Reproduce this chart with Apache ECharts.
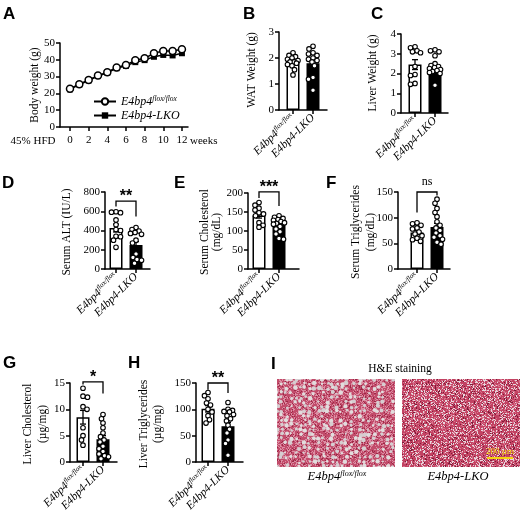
<!DOCTYPE html>
<html><head><meta charset="utf-8">
<script src="https://cdn.jsdelivr.net/npm/echarts@6/dist/echarts.min.js"></script>
<style>html,body{margin:0;padding:0;background:#fff}#c{width:520px;height:518px}</style>
</head><body><div id="c"></div><script>
// ---------------- DATA ----------------
const weeks = [0,1,2,3,4,5,6,7,8,9,10,11,12];
const weekTicks = [0,2,4,6,8,10,12];
const bwFlox = [22.8,25.5,28.0,30.6,32.6,35.4,36.9,39.7,40.9,43.9,45.3,45.3,46.3];
const bwLKO  = [22.4,25.2,27.7,30.3,32.3,35.0,36.4,38.6,39.8,41.8,42.9,42.6,43.9];

const watFlox = [2.2,2.1,2.05,2.0,1.95,1.9,1.85,1.85,1.8,1.75,1.7,1.55,1.35];
const watLKO  = [2.45,2.35,2.2,2.15,2.1,2.0,1.95,1.9,1.85,1.7,1.25,1.18,0.76];
const watMean = [1.82,1.8];
const watSem  = [0.07,0.13];

const lwFlox = [3.35,3.3,3.15,3.1,3.05,2.35,1.95,1.9,1.5,1.45];
const lwLKO  = [3.2,3.15,3.1,2.9,2.5,2.4,2.35,2.3,2.25,2.2,2.15,2.1,2.05,2.0,1.4];
const lwMean = [2.45,2.3];
const lwSem  = [0.25,0.13];

const altFlox = [595,590,585,510,460,410,400,340,335,300,225];
const altLKO  = [430,410,395,380,370,360,300,270,155,120,100,90,60];
const altMean = [425,250];
const altSem  = [40,35];
const altSig  = {text:'**', top:706, l:650, r:545};

const cholFlox = [175,168,160,155,148,145,140,122,115,110];
const cholLKO  = [140,136,133,130,128,125,122,120,118,112,105,98,92,80,78];
const cholMean = [141,117];
const cholSem  = [7,5];
const cholSig  = {text:'***', top:203, l:187, r:166};

const tgFlox = [90,88,85,80,78,72,68,65,60,57,54];
const tgLKO  = [136,128,118,110,102,92,85,80,75,70,65,62,58,52,48];
const tgMean = [71,82];
const tgSem  = [4,7];
const tgSig  = {text:'ns', top:150, l:110, r:143};

const lcFlox = [14,12.5,12.3,10.5,10,6.5,5,4.2,3.2];
const lcLKO  = [9.0,8.2,7.4,6.5,5.5,4.8,4.2,3.8,3.0,2.5,2.0,1.5,1.2,1.0,0.6];
const lcMean = [8.5,4.3];
const lcSem  = [1.3,0.7];
const lcSig  = {text:'*', top:15.2, l:14.7, r:13.0};

const ltFlox = [132,126,120,112,108,100,95,88,80,74];
const ltLKO  = [113,100,98,96,95,90,88,82,78,70,62,55,42,35,13];
const ltMean = [101,68];
const ltSem  = [6,7];
const ltSig  = {text:'**', top:150, l:137, r:131};

// ---------------- LAYOUT / STYLE ----------------
const SERIF = '"Liberation Serif","Times New Roman",serif';
const SANS = '"Liberation Sans",Arial,sans-serif';
const richLbl = {
  i:{fontFamily:SERIF,fontStyle:'italic',fontSize:11.5,color:'#000',lineHeight:13},
  s:{fontFamily:SERIF,fontStyle:'italic',fontSize:7,color:'#000',verticalAlign:'top',lineHeight:8}
};
function grpLabel(v){ return Math.round(v)===0 ? '{i|E4bp4}{s|flox/flox}' : '{i|E4bp4-LKO}'; }

const PXX = 20; // px per category unit
const panels = [
  {flox:watFlox, lko:watLKO, mean:watMean, sem:watSem, left:279, top:32, width:48, height:78, c0:14, ymax:3, step:1},
  {flox:lwFlox, lko:lwLKO, mean:lwMean, sem:lwSem, left:401, top:34, width:47, height:79, c0:14, ymax:4, step:1},
  {flox:altFlox, lko:altLKO, mean:altMean, sem:altSem, sig:altSig, left:105, top:192, width:45, height:77, c0:11, ymax:800, step:200},
  {flox:cholFlox, lko:cholLKO, mean:cholMean, sem:cholSem, sig:cholSig, left:248, top:193, width:51, height:76, c0:11, ymax:200, step:50},
  {flox:tgFlox, lko:tgLKO, mean:tgMean, sem:tgSem, sig:tgSig, left:398, top:192, width:52, height:77, c0:19, ymax:150, step:50},
  {flox:lcFlox, lko:lcLKO, mean:lcMean, sem:lcSem, sig:lcSig, left:70, top:383, width:47, height:79, c0:13, ymax:15, step:5},
  {flox:ltFlox, lko:ltLKO, mean:ltMean, sem:ltSem, sig:ltSig, left:196, top:383, width:47, height:79, c0:12, ymax:150, step:50}
];

function swarm(vals, cx, pxX, pxY, d, maxOff){
  const placed=[], out=[];
  const idx = vals.map((v,i)=>i).sort((a,b)=>vals[b]-vals[a]);
  idx.forEach((i,n)=>{
    const py = vals[i]*pxY;
    const sgn = n%2===0 ? 1 : -1;
    const cands=[0];
    for(let k=0.5;k<=maxOff;k+=0.5){cands.push(sgn*k,-sgn*k);}
    let chosen=null;
    for(const dx of cands){
      if(placed.every(p=>(p[0]-dx)**2+(p[1]-py)**2 >= d*d)){chosen=dx;break;}
    }
    if(chosen===null){
      let best=-1;
      for(const dx of cands){
        const m=Math.min(...placed.map(p=>(p[0]-dx)**2+(p[1]-py)**2));
        if(m>best){best=m;chosen=dx;}
      }
    }
    placed.push([chosen,py]);
    out.push([cx+chosen/pxX, vals[i]]);
  });
  return out;
}

const axisLine = {show:true, onZero:false, lineStyle:{color:'#000', width:1.5}};
const axisTick = {show:true, inside:false, length:4, lineStyle:{color:'#000', width:1.5}};

const grids=[], xAxes=[], yAxes=[], series=[];

// Panel A
grids.push({left:60, top:43, width:128, height:84});
xAxes.push({gridIndex:0, type:'value', min:-1.07, max:12.65,
  axisLine:axisLine, axisTick:Object.assign({}, axisTick, {customValues:weekTicks}),
  axisLabel:{customValues:weekTicks, margin:8, color:'#000', fontFamily:SERIF, fontSize:11},
  splitLine:{show:false}});
yAxes.push({gridIndex:0, type:'value', min:0, max:50, interval:10,
  axisLine:axisLine, axisTick:axisTick,
  axisLabel:{margin:5, color:'#000', fontFamily:SERIF, fontSize:11}, splitLine:{show:false}});
series.push({name:'lko', type:'line', xAxisIndex:0, yAxisIndex:0, z:3,
  data: weeks.map((w,i)=>[w,bwLKO[i]]), symbol:'rect', symbolSize:6,
  itemStyle:{color:'#000'}, lineStyle:{color:'#000', width:1.5}});
series.push({name:'flox', type:'line', xAxisIndex:0, yAxisIndex:0, z:4,
  data: weeks.map((w,i)=>[w,bwFlox[i]]), symbol:'circle', symbolSize:7,
  itemStyle:{color:'#fff', borderColor:'#000', borderWidth:1.5}, lineStyle:{color:'#000', width:1.5}});

// Bar panels
panels.forEach((p,k)=>{
  const gi = k+1;
  grids.push({left:p.left, top:p.top, width:p.width, height:p.height});
  const xmin = -p.c0/PXX, xmax = (p.width-p.c0)/PXX;
  xAxes.push({gridIndex:gi, type:'value', min:xmin, max:xmax,
    axisLine:axisLine, axisTick:Object.assign({}, axisTick, {customValues:[0,1]}),
    axisLabel:{customValues:[0,1], rotate:45, margin:6, formatter:grpLabel, rich:richLbl},
    splitLine:{show:false}});
  yAxes.push({gridIndex:gi, type:'value', min:0, max:p.ymax, interval:p.step,
    axisLine:axisLine, axisTick:axisTick,
    axisLabel:{margin:5, color:'#000', fontFamily:SERIF, fontSize:11}, splitLine:{show:false}});
  series.push({type:'bar', xAxisIndex:gi, yAxisIndex:gi, barWidth:13, z:2,
    data:[
      {value:[0,p.mean[0]], itemStyle:{color:'#fff', borderColor:'#000', borderWidth:1.5}},
      {value:[1,p.mean[1]], itemStyle:{color:'#000', borderColor:'#000', borderWidth:1.5}}
    ]});
  series.push({type:'custom', xAxisIndex:gi, yAxisIndex:gi, z:3, clip:false,
    encode:{x:0, y:1},
    data:[[0,p.mean[0],p.sem[0]],[1,p.mean[1],p.sem[1]]],
    renderItem:(params, api)=>{
      const x=api.value(0), m=api.value(1), s=api.value(2);
      const t=api.coord([x,m+s]), b=api.coord([x,m-s]);
      const st={stroke:'#000', lineWidth:1.3};
      return {type:'group', children:[
        {type:'line', shape:{x1:t[0],y1:t[1],x2:b[0],y2:b[1]}, style:st},
        {type:'line', shape:{x1:t[0]-3,y1:t[1],x2:t[0]+3,y2:t[1]}, style:st},
        {type:'line', shape:{x1:b[0]-3,y1:b[1],x2:b[0]+3,y2:b[1]}, style:st}
      ]};
    }});
  const pxY = p.height/p.ymax;
  series.push({type:'scatter', xAxisIndex:gi, yAxisIndex:gi, z:5, clip:false,
    symbol:'circle', symbolSize:4.6,
    itemStyle:{color:'#fff', borderColor:'#000', borderWidth:1.1, opacity:1},
    data: swarm(p.flox, 0, PXX, pxY, 4.4, 5.5).concat(swarm(p.lko, 1, PXX, pxY, 4.4, 5.5))});
  if(p.sig){
    const sg=p.sig;
    series.push({type:'custom', xAxisIndex:gi, yAxisIndex:gi, z:5, clip:false,
      encode:{x:[0,1], y:[2,3,4]},
      data:[[0,1,sg.top,sg.l,sg.r]],
      renderItem:(params, api)=>{
        const a=api.coord([api.value(0),api.value(3)]);
        const b=api.coord([api.value(0),api.value(2)]);
        const c=api.coord([api.value(1),api.value(2)]);
        const d=api.coord([api.value(1),api.value(4)]);
        const isNs = sg.text==='ns';
        return {type:'group', children:[
          {type:'polyline', shape:{points:[a,b,c,d]}, style:{stroke:'#000', lineWidth:1.3, fill:null}},
          {type:'text', style:{text:sg.text, x:(b[0]+c[0])/2, y:b[1]-(isNs?10:4),
            align:'center', verticalAlign:'middle',
            font: isNs ? '12px '+SERIF : 'bold 16px '+SANS, fill:'#000'}}
        ]};
      }});
  }
});

// ---------------- GRAPHICS (letters, titles, histology) ----------------
const graphics=[];
[['A',3,14],['B',243,14],['C',371,14],['D',2,183],['E',174,183],['F',326,183],['G',3,363],['H',128,363],['I',271,364]]
 .forEach(([t,x,y])=>graphics.push({type:'text', x:x, y:y,
   style:{text:t, font:'bold 17px '+SANS, fill:'#000', align:'left', verticalAlign:'middle'}}));

[['Body weight (g)',35,85,12],['WAT Weight (g)',252,70,12],['Liver Weight (g)',373,73,12],
 ['Serum ALT (IU/L)',67,232,12],['Serum Cholesterol\n(mg/dL)',211,232,12],
 ['Serum Triglycerides\n(mg/dL)',363,232,15],['Liver Cholesterol\n(µg/mg)',35,424,15],
 ['Liver Triglycerides\n(µg/mg)',151,424,14]]
 .forEach(([t,x,y,lh])=>graphics.push({type:'text', x:x, y:y, rotation:Math.PI/2,
   style:{text:t, font:'11.5px '+SERIF, fill:'#000', align:'center', verticalAlign:'middle', lineHeight:lh}}));

graphics.push({type:'text', x:33, y:141, style:{text:'45% HFD', font:'11px '+SERIF, fill:'#000', align:'center', verticalAlign:'middle'}});
graphics.push({type:'text', x:190, y:141, style:{text:'weeks', font:'11px '+SERIF, fill:'#000', align:'left', verticalAlign:'middle'}});

function hash(i,j,k){ const s=Math.sin(i*127.1+j*311.7+k*74.7)*43758.5453; return s-Math.floor(s); }
function tissue(w,h,kind){
  const c=document.createElement('canvas'); c.width=w; c.height=h;
  const g=c.getContext('2d');
  if(kind===0){
    g.fillStyle='#c24c6b'; g.fillRect(0,0,w,h);
    for(let y=0;y<h;y++) for(let x=0;x<w;x++){
      const r=hash(x,y,1);
      if(r<0.3){g.fillStyle='#dc8ea3'; g.fillRect(x,y,1,1);}
      else if(r>0.88){g.fillStyle='#9c2847'; g.fillRect(x,y,1,1);}
    }
    for(let y=0;y<h+5;y+=4.6) for(let x=0;x<w+5;x+=4.6){
      if(hash(x,y,2)<0.62){
        const rr=1.0+hash(x,y,3)*1.3;
        g.fillStyle=hash(x,y,6)<0.5?'#e2dcdd':'#d6ced1';
        g.beginPath(); g.arc(x+(hash(x,y,4)-0.5)*2.6, y+(hash(x,y,5)-0.5)*2.6, rr, 0, Math.PI*2); g.fill();
      }
    }
  } else {
    g.fillStyle='#c24262'; g.fillRect(0,0,w,h);
    for(let y=0;y<h;y++) for(let x=0;x<w;x++){
      const r=hash(x,y,7);
      if(r<0.2){g.fillStyle='#e6d6dc'; g.fillRect(x,y,1,1);}
      else if(r<0.38){g.fillStyle='#d8728d'; g.fillRect(x,y,1,1);}
      else if(r>0.91){g.fillStyle='#7e1a38'; g.fillRect(x,y,1,1);}
    }
  }
  return c;
}
graphics.push({type:'image', x:277, y:379, style:{image:tissue(118,88,0), width:118, height:88}});
graphics.push({type:'image', x:402, y:379, style:{image:tissue(118,88,1), width:118, height:88}});
graphics.push({type:'text', x:400, y:369, style:{text:'H&E staining', font:'11.5px '+SERIF, fill:'#000', align:'center', verticalAlign:'middle'}});
graphics.push({type:'line', shape:{x1:487,y1:458,x2:513,y2:458}, style:{stroke:'#f5d20f', lineWidth:2}});
graphics.push({type:'text', x:500, y:452, style:{text:'200 µm', font:'9px '+SERIF, fill:'#f5d20f', align:'center', verticalAlign:'middle'}});
graphics.push({type:'text', x:337, y:477, style:{text:'{i|E4bp4}{s|flox/flox}', align:'center', verticalAlign:'middle',
  rich:{i:{font:'italic 12.5px '+SERIF, fill:'#000', lineHeight:14}, s:{font:'italic 8px '+SERIF, fill:'#000', verticalAlign:'top', lineHeight:9}}}});
graphics.push({type:'text', x:458, y:477, style:{text:'E4bp4-LKO', font:'italic 12.5px '+SERIF, fill:'#000', align:'center', verticalAlign:'middle'}});

const chart = echarts.init(document.getElementById('c'));
chart.setOption({
  animation:false,
  textStyle:{fontFamily:SERIF},
  legend:{data:['flox','lko'], left:88, top:90, orient:'vertical', itemWidth:22, itemHeight:8, itemGap:2,
    formatter:n=> n==='flox' ? '{i|E4bp4}{s|flox/flox}' : '{i|E4bp4-LKO}',
    textStyle:{rich:{
      i:{fontFamily:SERIF,fontStyle:'italic',fontSize:12,color:'#000',lineHeight:13},
      s:{fontFamily:SERIF,fontStyle:'italic',fontSize:7.5,color:'#000',verticalAlign:'top',lineHeight:8}}}},
  grid:grids, xAxis:xAxes, yAxis:yAxes, series:series, graphic:graphics
});
</script></body></html>
